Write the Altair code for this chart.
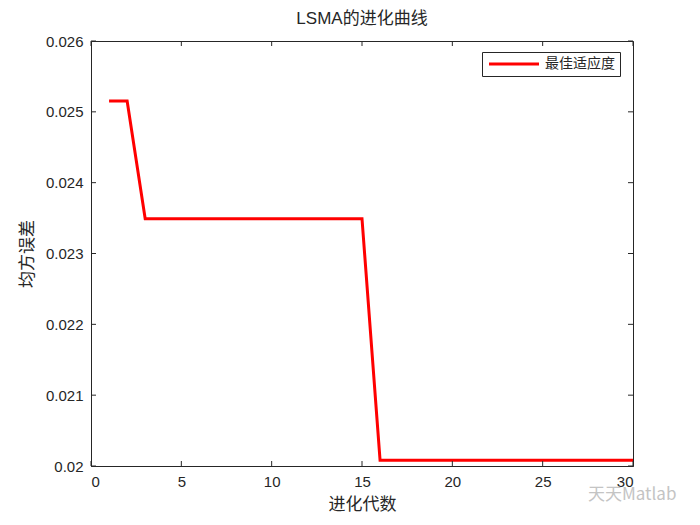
import altair as alt
import pandas as pd

# ---- data ----
generations = [1, 2, 3, 4, 5, 6, 7, 8, 9, 10,
               11, 12, 13, 14, 15, 16, 17, 18, 19, 20,
               21, 22, 23, 24, 25, 26, 27, 28, 29, 30]
best_fitness = [0.025153, 0.025153, 0.023491, 0.023491, 0.023491,
                0.023491, 0.023491, 0.023491, 0.023491, 0.023491,
                0.023491, 0.023491, 0.023491, 0.023491, 0.023491,
                0.020080, 0.020080, 0.020080, 0.020080, 0.020080,
                0.020080, 0.020080, 0.020080, 0.020080, 0.020080,
                0.020080, 0.020080, 0.020080, 0.020080, 0.020080]
series_name = "最佳适应度"
x_ticks = [0, 5, 10, 15, 20, 25, 30]
y_ticks = [0.020, 0.021, 0.022, 0.023, 0.024, 0.025, 0.026]
title_text = "LSMA的进化曲线"
x_title = "进化代数"
y_title = "均方误差"
watermark = "天天Matlab"

W, H = 542, 425
INK = "#262626"
LATIN = "Liberation Sans"
CJK = "Noto Sans CJK SC"

df = pd.DataFrame({"gen": generations, "mse": best_fitness,
                   "series": [series_name] * len(generations)})
xt = pd.DataFrame({"gen": x_ticks})
yt = pd.DataFrame({"mse": y_ticks})

x_axis = alt.Axis(values=x_ticks, title=x_title, labelPadding=8, titlePadding=7,
                  format="d")
y_axis = alt.Axis(values=y_ticks, title=y_title, labelPadding=8, titlePadding=9,
                  format=".3~f")
x_scale = alt.Scale(domain=[0, 30], nice=False, zero=False)
y_scale = alt.Scale(domain=[0.020, 0.026], nice=False, zero=False)

def X(): return alt.X("gen:Q", scale=x_scale, axis=x_axis)
def Y(): return alt.Y("mse:Q", scale=y_scale, axis=y_axis)

line = alt.Chart(df).mark_line(strokeWidth=3, strokeJoin="miter").encode(
    x=X(), y=Y(),
    color=alt.Color("series:N",
                    scale=alt.Scale(domain=[series_name], range=["#ff0000"]),
                    legend=alt.Legend(title=None, orient="none", legendX=391, legendY=11,
                                      symbolType="M-1,0H9", symbolSize=100,
                                      symbolStrokeWidth=3, labelFont=CJK,
                                      labelFontSize=14, labelColor=INK,
                                      labelOffset=44, padding=5,
                                      fillColor="white", strokeColor=INK)),
)

bottom_ticks = alt.Chart(xt).mark_rule(color=INK, strokeWidth=1).encode(
    x=X(), y=alt.value(H), y2=alt.value(H - 5))
top_ticks = alt.Chart(xt).mark_rule(color=INK, strokeWidth=1).encode(
    x=X(), y=alt.value(0), y2=alt.value(5))
left_ticks = alt.Chart(yt).mark_rule(color=INK, strokeWidth=1).encode(
    y=Y(), x=alt.value(0), x2=alt.value(5))
right_ticks = alt.Chart(yt).mark_rule(color=INK, strokeWidth=1).encode(
    y=Y(), x=alt.value(W), x2=alt.value(W - 5))

wm = alt.Chart(pd.DataFrame({"w": [watermark]})).mark_text(
    align="left", baseline="middle", font=CJK, fontSize=17, color="#c4c4c4"
).encode(text="w:N", x=alt.value(497), y=alt.value(454))

chart = alt.layer(line, bottom_ticks, top_ticks, left_ticks, right_ticks, wm).properties(
    width=W, height=H,
    title=alt.TitleParams(title_text, font=f"{LATIN}, {CJK}", fontSize=17,
                          fontWeight="normal", color=INK, anchor="middle", offset=6),
    autosize=alt.AutoSizeParams(type="none"),
    padding={"left": 83, "top": 33, "right": 59, "bottom": 51},
).configure_view(stroke=INK, strokeWidth=1).configure_axis(
    grid=False, ticks=False, domainColor=INK, domainWidth=1,
    labelFont=LATIN, labelFontSize=15, labelColor=INK,
    titleFont=CJK, titleFontSize=17, titleFontWeight="normal", titleColor=INK,
)

chart.save("out.html", embed_options={"renderer": "svg", "actions": False})
